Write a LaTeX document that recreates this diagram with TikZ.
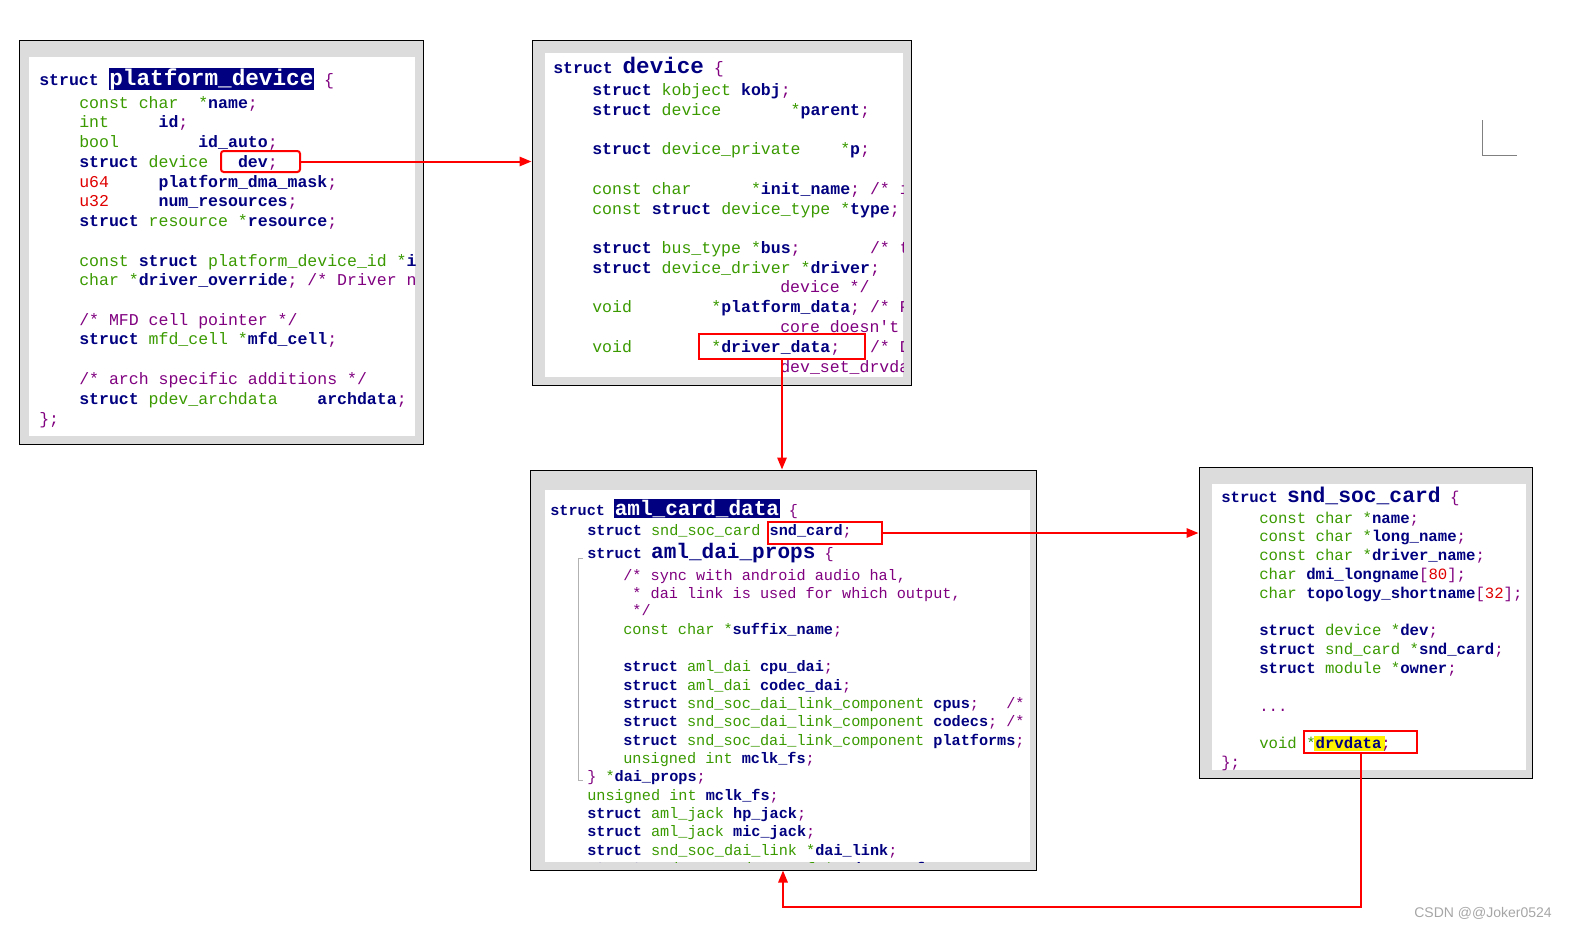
\documentclass[tikz,border=0pt]{standalone}
\usepackage{fontspec}
\setmainfont{Liberation Sans}
\setmonofont{Liberation Mono}
\usetikzlibrary{fit,arrows.meta}
\definecolor{kw}{HTML}{000080}
\definecolor{ty}{HTML}{3A9A00}
\definecolor{pu}{HTML}{800080}
\definecolor{rd}{HTML}{E00000}
\definecolor{frm}{HTML}{DCDCDC}
\newcommand\K[1]{\textbf{\color{kw}#1}}
\newcommand\G[1]{{\color{ty}#1}}
\newcommand\Pu[1]{{\color{pu}#1}}
\newcommand\Rd[1]{{\color{rd}#1}}
\newcommand\HL[2]{{\setlength\fboxsep{0.5pt}\colorbox{kw}{\fontsize{#1}{#1}\selectfont\bfseries\color{white}#2}}}
\newcommand\BG[2]{{\fontsize{#1}{#1}\selectfont\bfseries\color{kw}#2}}
\begin{document}
\begin{tikzpicture}[x=0.75pt,y=-0.75pt,
  frame/.style={draw=black,line width=0.75pt,fill=frm,inner sep=0},
  inner/.style={fill=white,draw=none,inner sep=0},
  ca/.style={anchor=base west,inner sep=0,font=\ttfamily\fontsize{12.4}{14}\selectfont},
  cb/.style={anchor=base west,inner sep=0,font=\ttfamily\fontsize{11.4}{13}\selectfont},
  cc/.style={anchor=base west,inner sep=0,font=\ttfamily\fontsize{11.75}{13}\selectfont},
  redbox/.style={draw=red,line width=1.5pt,inner sep=0},
  arr/.style={red,line width=1.5pt,-{Triangle[length=9pt,width=7pt]}}]
\useasboundingbox (0,0) rectangle (1589,939);
% frames
\node[frame,fit={(19,40) (423,444)}] (box1) {};
\node[inner,fit={(29,57) (415,436)}] (in1) {};
\node[frame,fit={(532,40) (911,385)}] (box2) {};
\node[inner,fit={(545,53) (903,377)}] (in2) {};
\node[frame,fit={(530,470) (1036,870)}] (box3) {};
\node[inner,fit={(545,490) (1030,862)}] (in3) {};
\node[frame,fit={(1199,467) (1532,778)}] (box4) {};
\node[inner,fit={(1212,484) (1526,770)}] (in4) {};
% box 1
\begin{scope}
\clip (29,57) rectangle (415,436);
\node[ca] (a1) at (39,85) {\K{struct} \HL{17}{platform\_device} \Pu{\{}};
\node[ca] (a2) at (79,108) {\G{const char~~*}\K{name}\Pu{;}};
\node[ca] (a3) at (79,127) {\G{int}~~~~~\K{id}\Pu{;}};
\node[ca] (a4) at (79,147) {\G{bool}~~~~~~~~\K{id\_auto}\Pu{;}};
\node[ca] (a5) at (79,167) {\K{struct} \G{device}~~~\K{dev}\Pu{;}};
\node[ca] (a6) at (79,187) {\Rd{u64}~~~~~\K{platform\_dma\_mask}\Pu{;}};
\node[ca] (a7) at (79,206) {\Rd{u32}~~~~~\K{num\_resources}\Pu{;}};
\node[ca] (a8) at (79,226) {\K{struct} \G{resource *}\K{resource}\Pu{;}};
\node[ca] (a9) at (79,266) {\G{const} \K{struct} \G{platform\_device\_id *}\K{id\_entry}\Pu{;}};
\node[ca] (a10) at (79,285) {\G{char *}\K{driver\_override}\Pu{; /* Driver name to force a match */}};
\node[ca] (a11) at (79,325) {\Pu{/* MFD cell pointer */}};
\node[ca] (a12) at (79,344) {\K{struct} \G{mfd\_cell *}\K{mfd\_cell}\Pu{;}};
\node[ca] (a13) at (79,384) {\Pu{/* arch specific additions */}};
\node[ca] (a14) at (79,404) {\K{struct} \G{pdev\_archdata}~~~~\K{archdata}\Pu{;}};
\node[ca] (a15) at (39,424) {\Pu{\};}};
\end{scope}
% box 2
\begin{scope}
\clip (545,53) rectangle (903,377);
\node[ca] (b1) at (553,73) {\K{struct} \BG{16.9}{device} \Pu{\{}};
\node[ca] (b2) at (592,95) {\K{struct} \G{kobject} \K{kobj}\Pu{;}};
\node[ca] (b3) at (592,115) {\K{struct} \G{device}~~~~~~~\G{*}\K{parent}\Pu{;}};
\node[ca] (b4) at (592,154) {\K{struct} \G{device\_private}~~~~\G{*}\K{p}\Pu{;}};
\node[ca] (b5) at (592,194) {\G{const char}~~~~~~\G{*}\K{init\_name}\Pu{; /* initial name of the device */}};
\node[ca] (b6) at (592,214) {\G{const} \K{struct} \G{device\_type *}\K{type}\Pu{;}};
\node[ca] (b7) at (592,253) {\K{struct} \G{bus\_type *}\K{bus}\Pu{;}~~~~~~~\Pu{/* type of bus device is on */}};
\node[ca] (b8) at (592,273) {\K{struct} \G{device\_driver *}\K{driver}\Pu{;}};
\node[ca] (b9) at (780,292) {\Pu{device */}};
\node[ca] (b10) at (592,312) {\G{void}~~~~~~~~\G{*}\K{platform\_data}\Pu{; /* Platform specific data, device}};
\node[ca] (b11) at (780,332) {\Pu{core doesn't touch it */}};
\node[ca] (b12) at (592,352) {\G{void}~~~~~~~~\G{*}\K{driver\_data}\Pu{;}~~~\Pu{/* Driver data, set and get with}};
\node[ca] (b13) at (780,372) {\Pu{dev\_set\_drvdata/dev\_get\_drvdata */}};
\end{scope}
% box 3
\begin{scope}
\clip (545,490) rectangle (1030,862);
\draw[gray!60,line width=0.75pt] (583,558) -- (578,558) -- (578,780) -- (583,780);
\node[cb] (c1) at (550,515) {\K{struct} \HL{15.8}{aml\_card\_data} \Pu{\{}};
\node[cb] (c2) at (587,535) {\K{struct} \G{snd\_soc\_card} \K{snd\_card}\Pu{;}};
\node[cb] (c3) at (587,558) {\K{struct} \BG{15.8}{aml\_dai\_props} \Pu{\{}};
\node[cb] (c4) at (623,580) {\Pu{/* sync with android audio hal,}};
\node[cb] (c5) at (623,598) {\Pu{~* dai link is used for which output,}};
\node[cb] (c6) at (623,615) {\Pu{~*/}};
\node[cb] (c7) at (623,634) {\G{const char *}\K{suffix\_name}\Pu{;}};
\node[cb] (c8) at (623,671) {\K{struct} \G{aml\_dai} \K{cpu\_dai}\Pu{;}};
\node[cb] (c9) at (623,690) {\K{struct} \G{aml\_dai} \K{codec\_dai}\Pu{;}};
\node[cb] (c10) at (623,708) {\K{struct} \G{snd\_soc\_dai\_link\_component} \K{cpus}\Pu{;}~~~\Pu{/* single cpu */}};
\node[cb] (c11) at (623,726) {\K{struct} \G{snd\_soc\_dai\_link\_component} \K{codecs}\Pu{;} \Pu{/* codecs */}};
\node[cb] (c12) at (623,745) {\K{struct} \G{snd\_soc\_dai\_link\_component} \K{platforms}\Pu{;}};
\node[cb] (c13) at (623,763) {\G{unsigned int} \K{mclk\_fs}\Pu{;}};
\node[cb] (c14) at (587,781) {\Pu{\}} \G{*}\K{dai\_props}\Pu{;}};
\node[cb] (c15) at (587,800) {\G{unsigned int} \K{mclk\_fs}\Pu{;}};
\node[cb] (c16) at (587,818) {\K{struct} \G{aml\_jack} \K{hp\_jack}\Pu{;}};
\node[cb] (c17) at (587,836) {\K{struct} \G{aml\_jack} \K{mic\_jack}\Pu{;}};
\node[cb] (c18) at (587,855) {\K{struct} \G{snd\_soc\_dai\_link *}\K{dai\_link}\Pu{;}};
\node[cb] (c19) at (587,873) {\K{struct} \G{snd\_soc\_codec\_conf *}\K{codec\_conf}\Pu{;}};
\end{scope}
% box 4
\fill[yellow] (1314,736) rectangle (1385,751);
\node[cc] (d1) at (1221,502) {\K{struct} \BG{16}{snd\_soc\_card} \Pu{\{}};
\node[cc] (d2) at (1259,523) {\G{const char *}\K{name}\Pu{;}};
\node[cc] (d3) at (1259,541) {\G{const char *}\K{long\_name}\Pu{;}};
\node[cc] (d4) at (1259,560) {\G{const char *}\K{driver\_name}\Pu{;}};
\node[cc] (d5) at (1259,579) {\G{char} \K{dmi\_longname}\Pu{[}\Rd{80}\Pu{];}};
\node[cc] (d6) at (1259,598) {\G{char} \K{topology\_shortname}\Pu{[}\Rd{32}\Pu{];}};
\node[cc] (d7) at (1259,635) {\K{struct} \G{device *}\K{dev}\Pu{;}};
\node[cc] (d8) at (1259,654) {\K{struct} \G{snd\_card *}\K{snd\_card}\Pu{;}};
\node[cc] (d9) at (1259,673) {\K{struct} \G{module *}\K{owner}\Pu{;}};
\node[cc] (d10) at (1259,711) {\Pu{...}};
\node[cc] (d11) at (1259,748) {\G{void *}\K{drvdata}\Pu{;}};
\node[cc] (d12) at (1221,767) {\Pu{\};}};
% red boxes
\node[redbox,rounded corners=2pt,fit={(221,151) (300,172)}] (rdev) {};
\node[redbox,fit={(699,334) (865,359)}] (rdrv) {};
\node[redbox,fit={(768,522) (882,544)}] (rsnd) {};
\node[redbox,fit={(1304,731) (1417,753)}] (rdd) {};
% arrows
\draw[arr] (rdev.east) -- (rdev.east -| box2.west);
\draw[arr] (rdrv.south) -- (rdrv.south |- box3.north);
\draw[arr] (rsnd.east) -- (rsnd.east -| box4.west);
\draw[arr] (rdd.south) -- ++(0,153) -| (box3.south);
% corner mark
\coordinate (m1) at (1482,120);
\draw[gray,line width=0.75pt] (m1) -- ++(0,35) -- ++(35,0);
\node[anchor=base east,text=gray!70,font=\fontsize{10.5}{12}\selectfont,inner sep=0] (wm) at (1552,917) {CSDN @@Joker0524};
\end{tikzpicture}
\end{document}
